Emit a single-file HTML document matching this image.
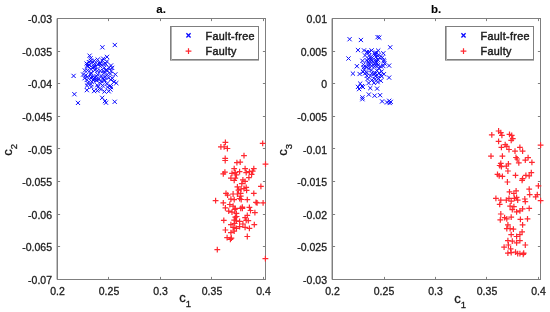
<!DOCTYPE html>
<html><head><meta charset="utf-8"><style>
html,body{margin:0;padding:0;background:#fff;width:550px;height:312px;overflow:hidden}
svg{display:block}
svg text{font-family:"Liberation Sans",Arial,sans-serif;fill:#1c1c1c;stroke:#1c1c1c;stroke-width:0.3px}
.t{font-size:10.5px}
.lg{font-size:10.8px;letter-spacing:0.3px;stroke-width:0.45px}
.ti{font-size:11.5px;font-weight:bold;fill:#000;stroke-width:0.1px}
.lb{font-size:13px}
.sub{font-size:9.5px}
</style></head><body>
<svg width="550" height="312" viewBox="0 0 550 312">
<rect x="57.5" y="18.5" width="208.0" height="261.0" fill="none" stroke="#7f7f7f" stroke-width="1"/>
<path d="M56.5 18.5V279.5" stroke="#c4c4c4" fill="none"/>
<path d="M57.5 279.5V276.9M57.5 18.5V21.1M108.5 279.5V276.9M108.5 18.5V21.1M160.5 279.5V276.9M160.5 18.5V21.1M211.5 279.5V276.9M211.5 18.5V21.1M263.5 279.5V276.9M263.5 18.5V21.1M57.5 18.5H60.1M265.5 18.5H262.9M57.5 51.5H60.1M265.5 51.5H262.9M57.5 83.5H60.1M265.5 83.5H262.9M57.5 116.5H60.1M265.5 116.5H262.9M57.5 148.5H60.1M265.5 148.5H262.9M57.5 181.5H60.1M265.5 181.5H262.9M57.5 214.5H60.1M265.5 214.5H262.9M57.5 246.5H60.1M265.5 246.5H262.9M57.5 279.5H60.1M265.5 279.5H262.9" stroke="#7f7f7f" fill="none"/>
<text x="57.50" y="295" text-anchor="middle" class="t">0.2</text>
<text x="109.00" y="295" text-anchor="middle" class="t">0.25</text>
<text x="160.50" y="295" text-anchor="middle" class="t">0.3</text>
<text x="212.00" y="295" text-anchor="middle" class="t">0.35</text>
<text x="263.50" y="295" text-anchor="middle" class="t">0.4</text>
<text x="52.00" y="23.00" text-anchor="end" class="t">-0.03</text>
<text x="52.00" y="55.63" text-anchor="end" class="t">-0.035</text>
<text x="52.00" y="88.25" text-anchor="end" class="t">-0.04</text>
<text x="52.00" y="120.88" text-anchor="end" class="t">-0.045</text>
<text x="52.00" y="153.50" text-anchor="end" class="t">-0.05</text>
<text x="52.00" y="186.12" text-anchor="end" class="t">-0.055</text>
<text x="52.00" y="218.75" text-anchor="end" class="t">-0.06</text>
<text x="52.00" y="251.38" text-anchor="end" class="t">-0.065</text>
<text x="52.00" y="284.00" text-anchor="end" class="t">-0.07</text>
<text x="161.10" y="13" text-anchor="middle" class="ti">a.</text>
<text x="179.20" y="301.7" class="lb">c<tspan dy="5.3" class="sub">1</tspan></text>
<text transform="translate(11.899999999999999,155.7) rotate(-90)" class="lb">c<tspan dy="5.5" class="sub">2</tspan></text>
<rect x="332.5" y="18.5" width="208.0" height="261.0" fill="none" stroke="#7f7f7f" stroke-width="1"/>
<path d="M331.5 18.5V279.5" stroke="#c4c4c4" fill="none"/>
<path d="M332.5 279.5V276.9M332.5 18.5V21.1M384.5 279.5V276.9M384.5 18.5V21.1M435.5 279.5V276.9M435.5 18.5V21.1M486.5 279.5V276.9M486.5 18.5V21.1M538.5 279.5V276.9M538.5 18.5V21.1M332.5 18.5H335.1M540.5 18.5H537.9M332.5 51.5H335.1M540.5 51.5H537.9M332.5 83.5H335.1M540.5 83.5H537.9M332.5 116.5H335.1M540.5 116.5H537.9M332.5 148.5H335.1M540.5 148.5H537.9M332.5 181.5H335.1M540.5 181.5H537.9M332.5 214.5H335.1M540.5 214.5H537.9M332.5 246.5H335.1M540.5 246.5H537.9M332.5 279.5H335.1M540.5 279.5H537.9" stroke="#7f7f7f" fill="none"/>
<text x="332.50" y="295" text-anchor="middle" class="t">0.2</text>
<text x="384.00" y="295" text-anchor="middle" class="t">0.25</text>
<text x="435.50" y="295" text-anchor="middle" class="t">0.3</text>
<text x="487.00" y="295" text-anchor="middle" class="t">0.35</text>
<text x="538.50" y="295" text-anchor="middle" class="t">0.4</text>
<text x="327.00" y="23.00" text-anchor="end" class="t">0.01</text>
<text x="327.00" y="55.62" text-anchor="end" class="t">0.005</text>
<text x="327.00" y="88.25" text-anchor="end" class="t">0</text>
<text x="327.00" y="120.88" text-anchor="end" class="t">-0.005</text>
<text x="327.00" y="153.50" text-anchor="end" class="t">-0.01</text>
<text x="327.00" y="186.12" text-anchor="end" class="t">-0.015</text>
<text x="327.00" y="218.75" text-anchor="end" class="t">-0.02</text>
<text x="327.00" y="251.38" text-anchor="end" class="t">-0.025</text>
<text x="327.00" y="284.00" text-anchor="end" class="t">-0.03</text>
<text x="436.10" y="13" text-anchor="middle" class="ti">b.</text>
<text x="454.20" y="302.6" class="lb">c<tspan dy="5.3" class="sub">1</tspan></text>
<text transform="translate(286.9,155.7) rotate(-90)" class="lb">c<tspan dy="5.5" class="sub">3</tspan></text>
<path d="M100.30 45.20L104.50 49.40M100.30 49.40L104.50 45.20M112.70 42.90L116.90 47.10M112.70 47.10L116.90 42.90M87.50 53.60L91.70 57.80M87.50 57.80L91.70 53.60M88.50 56.20L92.70 60.40M88.50 60.40L92.70 56.20M104.90 54.80L109.10 59.00M104.90 59.00L109.10 54.80M108.90 63.40L113.10 67.60M108.90 67.60L113.10 63.40M95.60 57.50L99.80 61.70M95.60 61.70L99.80 57.50M71.50 73.80L75.70 78.00M71.50 78.00L75.70 73.80M72.30 92.10L76.50 96.30M72.30 96.30L76.50 92.10M75.90 100.80L80.10 105.00M75.90 105.00L80.10 100.80M100.10 95.70L104.30 99.90M100.10 99.90L104.30 95.70M102.80 99.00L107.00 103.20M102.80 103.20L107.00 99.00M103.90 100.60L108.10 104.80M103.90 104.80L108.10 100.60M112.60 99.70L116.80 103.90M112.60 103.90L116.80 99.70M113.20 72.30L117.40 76.50M113.20 76.50L117.40 72.30M114.20 81.00L118.40 85.20M114.20 85.20L118.40 81.00M106.60 89.20L110.80 93.40M106.60 93.40L110.80 89.20M98.20 68.80L102.40 73.00M98.20 73.00L102.40 68.80M98.47 81.53L102.67 85.73M98.47 85.73L102.67 81.53M96.48 77.19L100.68 81.39M96.48 81.39L100.68 77.19M89.24 84.85L93.44 89.05M89.24 89.05L93.44 84.85M84.72 77.78L88.92 81.98M84.72 81.98L88.92 77.78M88.65 72.31L92.85 76.51M88.65 76.51L92.85 72.31M86.90 62.84L91.10 67.04M86.90 67.04L91.10 62.84M105.41 68.70L109.61 72.90M105.41 72.90L109.61 68.70M92.68 61.63L96.88 65.83M92.68 65.83L96.88 61.63M104.66 81.64L108.86 85.84M104.66 85.84L108.86 81.64M109.16 68.99L113.36 73.19M109.16 73.19L113.36 68.99M108.97 85.00L113.17 89.20M108.97 89.20L113.17 85.00M98.81 87.26L103.01 91.46M98.81 91.46L103.01 87.26M95.37 68.76L99.57 72.96M95.37 72.96L99.57 68.76M98.23 64.16L102.43 68.36M98.23 68.36L102.43 64.16M111.91 79.80L116.11 84.00M111.91 84.00L116.11 79.80M99.21 79.02L103.41 83.22M99.21 83.22L103.41 79.02M90.23 75.28L94.43 79.48M90.23 79.48L94.43 75.28M103.65 61.66L107.85 65.86M103.65 65.86L107.85 61.66M84.89 83.50L89.09 87.70M84.89 87.70L89.09 83.50M105.05 72.43L109.25 76.63M105.05 76.63L109.25 72.43M110.07 65.79L114.27 69.99M110.07 69.99L114.27 65.79M95.06 83.16L99.26 87.36M95.06 87.36L99.26 83.16M107.11 65.59L111.31 69.79M107.11 69.79L111.31 65.59M102.11 65.59L106.31 69.79M102.11 69.79L106.31 65.59M91.67 76.95L95.87 81.15M91.67 81.15L95.87 76.95M104.77 59.38L108.97 63.58M104.77 63.58L108.97 59.38M95.61 72.43L99.81 76.63M95.61 76.63L99.81 72.43M90.28 65.17L94.48 69.37M90.28 69.37L94.48 65.17M108.64 77.58L112.84 81.78M108.64 81.78L112.84 77.58M101.51 62.01L105.71 66.21M101.51 66.21L105.71 62.01M92.13 58.59L96.33 62.79M92.13 62.79L96.33 58.59M85.25 74.81L89.45 79.01M85.25 79.01L89.45 74.81M103.10 74.73L107.30 78.93M103.10 78.93L107.30 74.73M85.44 68.25L89.64 72.45M85.44 72.45L89.64 68.25M108.32 87.41L112.52 91.61M108.32 91.61L112.52 87.41M95.62 62.23L99.82 66.43M95.62 66.43L99.82 62.23M85.62 80.93L89.82 85.13M85.62 85.13L89.82 80.93M101.77 77.80L105.97 82.00M101.77 82.00L105.97 77.80M92.71 68.01L96.91 72.21M92.71 72.21L96.91 68.01M100.29 58.55L104.49 62.75M100.29 62.75L104.49 58.55M95.28 88.56L99.48 92.76M95.28 92.76L99.48 88.56M84.49 61.47L88.69 65.67M84.49 65.67L88.69 61.47M81.02 72.43L85.22 76.63M81.02 76.63L85.22 72.43M92.47 75.10L96.67 79.30M92.47 79.30L96.67 75.10M88.95 75.98L93.15 80.18M88.95 80.18L93.15 75.98M83.75 73.15L87.95 77.35M83.75 77.35L87.95 73.15M93.85 64.52L98.05 68.72M93.85 68.72L98.05 64.52M105.43 85.02L109.63 89.22M105.43 89.22L109.63 85.02M89.45 60.79L93.65 64.99M89.45 64.99L93.65 60.79M86.79 60.01L90.99 64.21M86.79 64.21L90.99 60.01M106.51 75.80L110.71 80.00M106.51 80.00L110.71 75.80M88.95 67.21L93.15 71.41M88.95 71.41L93.15 67.21M100.40 75.94L104.60 80.14M100.40 80.14L104.60 75.94M89.54 79.62L93.74 83.82M89.54 83.82L93.74 79.62M108.13 83.60L112.33 87.80M108.13 87.80L112.33 83.60M108.27 71.80L112.47 76.00M108.27 76.00L112.47 71.80M94.36 73.96L98.56 78.16M94.36 78.16L98.56 73.96M88.79 58.62L92.99 62.82M88.79 62.82L92.99 58.62M101.22 68.93L105.42 73.13M101.22 73.13L105.42 68.93M97.26 61.15L101.46 65.35M97.26 65.35L101.46 61.15M95.92 85.12L100.12 89.32M95.92 89.32L100.12 85.12M101.13 56.57L105.33 60.77M101.13 60.77L105.33 56.57M102.86 78.36L107.06 82.56M102.86 82.56L107.06 78.36M84.75 88.02L88.95 92.22M84.75 92.22L88.95 88.02M82.53 76.07L86.73 80.27M82.53 80.27L86.73 76.07M99.34 73.94L103.54 78.14M99.34 78.14L103.54 73.94M84.79 63.72L88.99 67.92M84.79 67.92L88.99 63.72M102.42 89.47L106.62 93.67M102.42 93.67L106.62 89.47M91.93 64.83L96.13 69.03M91.93 69.03L96.13 64.83M91.17 78.22L95.37 82.42M91.17 82.42L95.37 78.22M82.74 68.41L86.94 72.61M82.74 72.61L86.94 68.41M103.99 67.90L108.19 72.10M103.99 72.10L108.19 67.90M101.62 70.98L105.82 75.18M101.62 75.18L105.82 70.98M98.47 61.58L102.67 65.78M98.47 65.78L102.67 61.58M94.31 78.39L98.51 82.59M94.31 82.59L98.51 78.39M100.55 83.41L104.75 87.61M100.55 87.61L104.75 83.41M86.00 64.14L90.20 68.34M86.00 68.34L90.20 64.14M92.01 88.99L96.21 93.19M92.01 93.19L96.21 88.99M89.08 70.88L93.28 75.08M89.08 75.08L93.28 70.88M94.35 76.76L98.55 80.96M94.35 80.96L98.55 76.76M88.85 82.18L93.05 86.38M88.85 86.38L93.05 82.18M110.30 76.23L114.50 80.43M110.30 80.43L114.50 76.23" stroke="#0a0aff" stroke-width="1.0" fill="none"/>
<path d="M347.50 37.10L351.70 41.30M347.50 41.30L351.70 37.10M358.80 37.90L363.00 42.10M358.80 42.10L363.00 37.90M375.50 35.00L379.70 39.20M375.50 39.20L379.70 35.00M377.20 35.50L381.40 39.70M377.20 39.70L381.40 35.50M388.10 45.20L392.30 49.40M388.10 49.40L392.30 45.20M355.90 48.00L360.10 52.20M355.90 52.20L360.10 48.00M361.90 48.30L366.10 52.50M361.90 52.50L366.10 48.30M369.50 48.30L373.70 52.50M369.50 52.50L373.70 48.30M376.10 48.50L380.30 52.70M376.10 52.70L380.30 48.50M346.40 56.40L350.60 60.60M346.40 60.60L350.60 56.40M354.80 64.10L359.00 68.30M354.80 68.30L359.00 64.10M387.00 63.50L391.20 67.70M387.00 67.70L391.20 63.50M350.80 71.50L355.00 75.70M350.80 75.70L355.00 71.50M357.50 71.90L361.70 76.10M357.50 76.10L361.70 71.90M387.00 75.50L391.20 79.70M387.00 79.70L391.20 75.50M358.10 81.50L362.30 85.70M358.10 85.70L362.30 81.50M355.90 84.80L360.10 89.00M355.90 89.00L360.10 84.80M357.00 87.00L361.20 91.20M357.00 91.20L361.20 87.00M360.80 84.80L365.00 89.00M360.80 89.00L365.00 84.80M368.20 86.00L372.40 90.20M368.20 90.20L372.40 86.00M375.00 86.50L379.20 90.70M375.00 90.70L379.20 86.50M366.70 92.40L370.90 96.60M366.70 96.60L370.90 92.40M372.50 93.60L376.70 97.80M372.50 97.80L376.70 93.60M378.00 93.10L382.20 97.30M378.00 97.30L382.20 93.10M360.30 95.30L364.50 99.50M360.30 99.50L364.50 95.30M360.30 97.10L364.50 101.30M360.30 101.30L364.50 97.10M380.00 99.30L384.20 103.50M380.00 103.50L384.20 99.30M384.90 100.30L389.10 104.50M384.90 104.50L389.10 100.30M387.10 98.70L391.30 102.90M387.10 102.90L391.30 98.70M387.60 100.90L391.80 105.10M387.60 105.10L391.80 100.90M388.70 99.80L392.90 104.00M388.70 104.00L392.90 99.80M359.80 84.00L364.00 88.20M359.80 88.20L364.00 84.00M368.40 73.90L372.60 78.10M368.40 78.10L372.60 73.90M369.70 78.10L373.90 82.30M369.70 82.30L373.90 78.10M376.01 63.08L380.21 67.28M376.01 67.28L380.21 63.08M364.17 64.89L368.37 69.09M364.17 69.09L368.37 64.89M369.34 68.07L373.54 72.27M369.34 72.27L373.54 68.07M381.24 51.17L385.44 55.37M381.24 55.37L385.44 51.17M373.52 73.85L377.72 78.05M373.52 78.05L377.72 73.85M368.96 56.79L373.16 60.99M368.96 60.99L373.16 56.79M377.57 55.59L381.77 59.79M377.57 59.79L381.77 55.59M381.83 72.08L386.03 76.28M381.83 76.28L386.03 72.08M369.58 63.81L373.78 68.01M369.58 68.01L373.78 63.81M381.21 63.98L385.41 68.18M381.21 68.18L385.41 63.98M367.08 49.93L371.28 54.13M367.08 54.13L371.28 49.93M362.95 53.35L367.15 57.55M362.95 57.55L367.15 53.35M366.13 60.13L370.33 64.33M366.13 64.33L370.33 60.13M373.14 76.91L377.34 81.11M373.14 81.11L377.34 76.91M371.83 80.76L376.03 84.96M371.83 84.96L376.03 80.76M377.23 66.42L381.43 70.62M377.23 70.62L381.43 66.42M360.38 58.74L364.58 62.94M360.38 62.94L364.58 58.74M360.86 69.83L365.06 74.03M360.86 74.03L365.06 69.83M381.88 59.42L386.08 63.62M381.88 63.62L386.08 59.42M375.50 80.02L379.70 84.22M375.50 84.22L379.70 80.02M362.88 71.32L367.08 75.52M362.88 75.52L367.08 71.32M364.71 73.70L368.91 77.90M364.71 77.90L368.91 73.70M373.83 54.83L378.03 59.03M373.83 59.03L378.03 54.83M378.44 73.17L382.64 77.37M378.44 77.37L382.64 73.17M369.73 71.23L373.93 75.43M369.73 75.43L373.93 71.23M366.69 57.20L370.89 61.40M366.69 61.40L370.89 57.20M361.37 62.56L365.57 66.76M361.37 66.76L365.57 62.56M372.64 51.05L376.84 55.25M372.64 55.25L376.84 51.05M372.63 61.41L376.83 65.61M372.63 65.61L376.83 61.41M369.44 60.84L373.64 65.04M369.44 65.04L373.64 60.84M381.62 57.97L385.82 62.17M381.62 62.17L385.82 57.97M366.50 80.96L370.70 85.16M366.50 85.16L370.70 80.96M364.97 49.91L369.17 54.11M364.97 54.11L369.17 49.91M364.71 70.63L368.91 74.83M364.71 74.83L368.91 70.63M380.25 55.25L384.45 59.45M380.25 59.45L384.45 55.25M374.02 50.51L378.22 54.71M374.02 54.71L378.22 50.51M366.80 66.53L371.00 70.73M366.80 70.73L371.00 66.53M373.63 63.44L377.83 67.64M373.63 67.64L377.83 63.44M364.53 58.01L368.73 62.21M364.53 62.21L368.73 58.01M376.06 57.93L380.26 62.13M376.06 62.13L380.26 57.93M372.07 71.90L376.27 76.10M372.07 76.10L376.27 71.90M372.90 53.10L377.10 57.30M372.90 57.30L377.10 53.10M361.62 65.21L365.82 69.41M361.62 69.41L365.82 65.21M379.50 69.42L383.70 73.62M379.50 73.62L383.70 69.42M374.62 68.31L378.82 72.51M374.62 72.51L378.82 68.31M379.62 74.22L383.82 78.42M379.62 78.42L383.82 74.22M378.74 64.29L382.94 68.49M378.74 68.49L382.94 64.29M366.91 53.59L371.11 57.79M366.91 57.79L371.11 53.59M361.93 67.50L366.13 71.70M361.93 71.70L366.13 67.50M369.53 58.51L373.73 62.71M369.53 62.71L373.73 58.51M369.04 54.52L373.24 58.72M369.04 58.72L373.24 54.52M365.45 76.89L369.65 81.09M365.45 81.09L369.65 76.89M376.19 76.63L380.39 80.83M376.19 80.83L380.39 76.63M378.70 78.66L382.90 82.86M378.70 82.86L382.90 78.66M376.61 52.79L380.81 56.99M376.61 56.99L380.81 52.79M374.80 73.09L379.00 77.29M374.80 77.29L379.00 73.09M372.90 58.43L377.10 62.63M372.90 62.63L377.10 58.43M377.00 71.09L381.20 75.29M377.00 75.29L381.20 71.09M373.51 71.22L377.71 75.42M373.51 75.42L377.71 71.22M372.32 64.17L376.52 68.37M372.32 68.37L376.52 64.17M366.48 61.95L370.68 66.15M366.48 66.15L370.68 61.95M366.62 64.03L370.82 68.23M366.62 68.23L370.82 64.03M374.22 60.21L378.42 64.41M374.22 64.41L378.42 60.21M373.46 52.34L377.66 56.54M373.46 56.54L377.66 52.34M374.36 58.49L378.56 62.69M374.36 62.69L378.56 58.49M382.49 61.50L386.69 65.70M382.49 65.70L386.69 61.50" stroke="#0a0aff" stroke-width="1.0" fill="none"/>
<path d="M222.50 142.30H228.30M225.40 139.40V145.20M218.00 146.90H223.80M220.90 144.00V149.80M221.20 146.90H227.00M224.10 144.00V149.80M224.50 148.50H230.30M227.40 145.60V151.40M259.80 143.40H265.60M262.70 140.50V146.30M241.10 155.60H246.90M244.00 152.70V158.50M222.30 158.40H228.10M225.20 155.50V161.30M222.30 160.50H228.10M225.20 157.60V163.40M234.00 162.70H239.80M236.90 159.80V165.60M237.30 162.20H243.10M240.20 159.30V165.10M262.60 164.20H268.40M265.50 161.30V167.10M231.30 168.70H237.10M234.20 165.80V171.60M242.20 168.70H248.00M245.10 165.80V171.60M250.90 168.70H256.70M253.80 165.80V171.60M222.00 172.20H227.80M224.90 169.30V175.10M220.40 173.80H226.20M223.30 170.90V176.70M229.10 173.30H234.90M232.00 170.40V176.20M232.40 172.70H238.20M235.30 169.80V175.60M233.50 174.90H239.30M236.40 172.00V177.80M236.70 171.60H242.50M239.60 168.70V174.50M243.30 172.70H249.10M246.20 169.80V175.60M246.50 171.60H252.30M249.40 168.70V174.50M249.80 171.10H255.60M252.70 168.20V174.00M248.70 174.40H254.50M251.60 171.50V177.30M246.00 177.60H251.80M248.90 174.70V180.50M228.00 178.20H233.80M230.90 175.30V181.10M231.30 180.40H237.10M234.20 177.50V183.30M232.40 178.20H238.20M235.30 175.30V181.10M240.00 179.80H245.80M242.90 176.90V182.70M242.20 181.40H248.00M245.10 178.50V184.30M238.90 183.60H244.70M241.80 180.70V186.50M243.30 187.40H249.10M246.20 184.50V190.30M241.10 188.50H246.90M244.00 185.60V191.40M234.50 186.90H240.30M237.40 184.00V189.80M235.60 190.20H241.40M238.50 187.30V193.10M258.00 186.40H263.80M260.90 183.50V189.30M250.90 193.40H256.70M253.80 190.50V196.30M223.10 193.40H228.90M226.00 190.50V196.30M224.70 195.10H230.50M227.60 192.20V198.00M230.20 194.00H236.00M233.10 191.10V196.90M234.50 194.00H240.30M237.40 191.10V196.90M237.80 193.40H243.60M240.70 190.50V196.30M237.80 196.20H243.60M240.70 193.30V199.10M212.70 200.70H218.50M215.60 197.80V203.60M220.40 202.90H226.20M223.30 200.00V205.80M222.50 207.80H228.30M225.40 204.90V210.70M228.00 199.10H233.80M230.90 196.20V202.00M231.30 199.60H237.10M234.20 196.70V202.50M236.70 198.50H242.50M239.60 195.60V201.40M244.40 199.60H250.20M247.30 196.70V202.50M253.10 202.40H258.90M256.00 199.50V205.30M254.20 202.90H260.00M257.10 200.00V205.80M260.20 202.90H266.00M263.10 200.00V205.80M226.90 204.50H232.70M229.80 201.60V207.40M230.20 206.20H236.00M233.10 203.30V209.10M232.40 208.40H238.20M235.30 205.50V211.30M237.80 208.40H243.60M240.70 205.50V211.30M239.50 208.40H245.30M242.40 205.50V211.30M246.50 207.30H252.30M249.40 204.40V210.20M247.60 210.50H253.40M250.50 207.60V213.40M225.80 211.10H231.60M228.70 208.20V214.00M229.10 212.20H234.90M232.00 209.30V215.10M233.50 213.30H239.30M236.40 210.40V216.20M252.00 212.70H257.80M254.90 209.80V215.60M244.40 215.40H250.20M247.30 212.50V218.30M242.20 217.60H248.00M245.10 214.70V220.50M232.40 217.10H238.20M235.30 214.20V220.00M220.90 220.40H226.70M223.80 217.50V223.30M233.50 220.90H239.30M236.40 218.00V223.80M243.30 220.40H249.10M246.20 217.50V223.30M228.00 224.70H233.80M230.90 221.80V227.60M251.40 224.70H257.20M254.30 221.80V227.60M231.30 220.20H237.10M234.20 217.30V223.10M236.70 221.30H242.50M239.60 218.40V224.20M245.40 220.70H251.20M248.30 217.80V223.60M231.80 223.50H237.60M234.70 220.60V226.40M240.00 224.00H245.80M242.90 221.10V226.90M242.20 227.30H248.00M245.10 224.40V230.20M246.50 228.40H252.30M249.40 225.50V231.30M236.70 226.70H242.50M239.60 223.80V229.60M233.50 228.40H239.30M236.40 225.50V231.30M230.20 227.30H236.00M233.10 224.40V230.20M222.50 230.00H228.30M225.40 227.10V232.90M231.30 231.10H237.10M234.20 228.20V234.00M228.00 232.70H233.80M230.90 229.80V235.60M244.40 236.50H250.20M247.30 233.60V239.40M224.20 237.60H230.00M227.10 234.70V240.50M227.50 239.30H233.30M230.40 236.40V242.20M228.50 238.20H234.30M231.40 235.30V241.10M214.40 249.60H220.20M217.30 246.70V252.50M262.50 258.70H268.30M265.40 255.80V261.60M238.20 189.00H244.00M241.10 186.10V191.90M243.70 190.30H249.50M246.60 187.40V193.20M239.40 207.20H245.20M242.30 204.30V210.10M231.90 209.50H237.70M234.80 206.60V212.40M238.30 199.50H244.10M241.20 196.60V202.40M233.70 216.50H239.50M236.60 213.60V219.40" stroke="#ff2830" stroke-width="1.2" fill="none"/>
<path d="M488.90 134.80H494.70M491.80 131.90V137.70M495.70 131.00H501.50M498.60 128.10V133.90M497.90 132.60H503.70M500.80 129.70V135.50M499.00 135.40H504.80M501.90 132.50V138.30M506.60 134.30H512.40M509.50 131.40V137.20M508.80 135.40H514.60M511.70 132.50V138.30M509.90 138.60H515.70M512.80 135.70V141.50M508.30 140.30H514.10M511.20 137.40V143.20M495.70 141.40H501.50M498.60 138.50V144.30M502.30 144.60H508.10M505.20 141.70V147.50M503.90 146.30H509.70M506.80 143.40V149.20M498.50 147.40H504.30M501.40 144.50V150.30M506.10 149.50H511.90M509.00 146.60V152.40M512.10 151.20H517.90M515.00 148.30V154.10M517.00 147.40H522.80M519.90 144.50V150.30M519.70 151.20H525.50M522.60 148.30V154.10M537.70 145.20H543.50M540.60 142.30V148.10M488.10 156.20H493.90M491.00 153.30V159.10M499.50 156.20H505.30M502.40 153.30V159.10M513.10 157.50H518.90M516.00 154.60V160.40M525.20 157.70H531.00M528.10 154.80V160.60M514.30 159.00H520.10M517.20 156.10V161.90M515.90 162.80H521.70M518.80 159.90V165.70M522.40 160.10H528.20M525.30 157.20V163.00M529.00 162.30H534.80M531.90 159.40V165.20M497.90 163.40H503.70M500.80 160.50V166.30M496.80 165.50H502.60M499.70 162.60V168.40M498.50 166.60H504.30M501.40 163.70V169.50M503.40 166.10H509.20M506.30 163.20V169.00M505.50 163.90H511.30M508.40 161.00V166.80M505.00 171.00H510.80M507.90 168.10V173.90M494.60 174.30H500.40M497.50 171.40V177.20M496.30 175.90H502.10M499.20 173.00V178.80M499.50 176.40H505.30M502.40 173.50V179.30M512.60 175.40H518.40M515.50 172.50V178.30M519.70 178.60H525.50M522.60 175.70V181.50M519.20 180.30H525.00M522.10 177.40V183.20M523.00 175.40H528.80M525.90 172.50V178.30M526.30 175.90H532.10M529.20 173.00V178.80M528.40 172.60H534.20M531.30 169.70V175.50M504.50 182.00H510.30M507.40 179.10V184.90M535.50 185.80H541.30M538.40 182.90V188.70M526.30 189.20H532.10M529.20 186.30V192.10M526.80 194.60H532.60M529.70 191.70V197.50M534.40 194.60H540.20M537.30 191.70V197.50M532.80 196.80H538.60M535.70 193.90V199.70M537.70 200.60H543.50M540.60 197.70V203.50M506.60 191.90H512.40M509.50 189.00V194.80M513.20 190.80H519.00M516.10 187.90V193.70M511.00 193.50H516.80M513.90 190.60V196.40M493.00 198.40H498.80M495.90 195.50V201.30M497.90 200.10H503.70M500.80 197.20V203.00M496.80 204.40H502.60M499.70 201.50V207.30M503.40 200.10H509.20M506.30 197.20V203.00M506.10 198.40H511.90M509.00 195.50V201.30M508.30 201.20H514.10M511.20 198.30V204.10M511.50 198.40H517.30M514.40 195.50V201.30M514.80 200.10H520.60M517.70 197.20V203.00M513.70 197.40H519.50M516.60 194.50V200.30M522.40 201.70H528.20M525.30 198.80V204.60M521.90 199.00H527.70M524.80 196.10V201.90M507.20 206.10H513.00M510.10 203.20V209.00M511.00 206.60H516.80M513.90 203.70V209.50M509.40 209.60H515.20M512.30 206.70V212.50M513.70 211.80H519.50M516.60 208.90V214.70M517.00 210.80H522.80M519.90 207.90V213.70M519.70 208.80H525.50M522.60 205.90V211.70M526.30 208.30H532.10M529.20 205.40V211.20M497.90 214.00H503.70M500.80 211.10V216.90M497.40 219.90H503.20M500.30 217.00V222.80M501.70 217.70H507.50M504.60 214.80V220.60M503.90 218.80H509.70M506.80 215.90V221.70M508.30 217.20H514.10M511.20 214.30V220.10M517.50 219.40H523.30M520.40 216.50V222.30M524.60 218.80H530.40M527.50 215.90V221.70M505.00 224.80H510.80M507.90 221.90V227.70M503.90 228.60H509.70M506.80 225.70V231.50M507.20 228.60H513.00M510.10 225.70V231.50M510.50 229.20H516.30M513.40 226.30V232.10M519.70 224.80H525.50M522.60 221.90V227.70M519.20 231.90H525.00M522.10 229.00V234.80M517.00 234.60H522.80M519.90 231.70V237.50M508.30 234.60H514.10M511.20 231.70V237.50M513.70 236.50H519.50M516.60 233.60V239.40M505.00 240.60H510.80M507.90 237.70V243.50M509.40 241.20H515.20M512.30 238.30V244.10M517.00 240.60H522.80M519.90 237.70V243.50M513.70 242.80H519.50M516.60 239.90V245.70M501.20 247.20H507.00M504.10 244.30V250.10M505.50 245.00H511.30M508.40 242.10V247.90M507.70 248.80H513.50M510.60 245.90V251.70M522.40 245.00H528.20M525.30 242.10V247.90M505.00 253.20H510.80M507.90 250.30V256.10M508.30 252.60H514.10M511.20 249.70V255.50M512.60 252.10H518.40M515.50 249.20V255.00M514.80 253.70H520.60M517.70 250.80V256.60M517.00 253.70H522.80M519.90 250.80V256.60M520.30 254.30H526.10M523.20 251.40V257.20M520.80 253.20H526.60M523.70 250.30V256.10" stroke="#ff2830" stroke-width="1.2" fill="none"/>
<rect x="170.5" y="26.5" width="88" height="33" fill="#fff" stroke="#7f7f7f"/>
<path d="M171.5 27V60M170.0 60.5H259.0" stroke="#b0b0b0" fill="none"/>
<path d="M186.40 33.30L190.60 37.50M186.40 37.50L190.60 33.30" stroke="#0a0aff" stroke-width="1.3" fill="none"/>
<path d="M185.60 51.10H191.40M188.50 48.20V54.00" stroke="#ff2830" stroke-width="1.2" fill="none"/>
<text x="205.6" y="39.8" class="lg">Fault-free</text>
<text x="205.6" y="54.8" class="lg">Faulty</text>
<rect x="445.5" y="26.5" width="88" height="33" fill="#fff" stroke="#7f7f7f"/>
<path d="M446.5 27V60M445.0 60.5H534.0" stroke="#b0b0b0" fill="none"/>
<path d="M461.40 33.30L465.60 37.50M461.40 37.50L465.60 33.30" stroke="#0a0aff" stroke-width="1.3" fill="none"/>
<path d="M460.60 51.10H466.40M463.50 48.20V54.00" stroke="#ff2830" stroke-width="1.2" fill="none"/>
<text x="480.6" y="39.8" class="lg">Fault-free</text>
<text x="480.6" y="54.8" class="lg">Faulty</text>
</svg>
</body></html>
